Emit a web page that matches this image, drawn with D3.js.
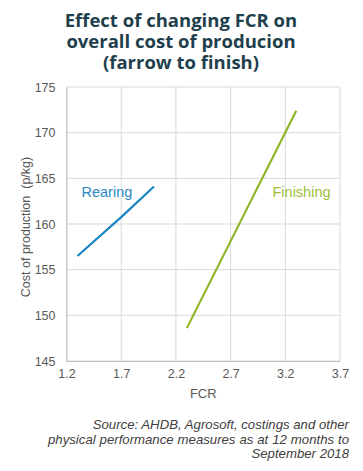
<!DOCTYPE html>
<html>
<head>
<meta charset="utf-8">
<script src="https://cdn.jsdelivr.net/npm/d3@7"></script>
<style>
  body { margin: 0; background: #fff; }
  text { font-family: "Liberation Sans", Arial, sans-serif; }
</style>
</head>
<body>
<div id="chart"></div>
<script>
// DATA
let titleLines = ['Effect of changing FCR on', 'overall cost of producion', '(farrow to finish)'];
let xTicks = [1.2, 1.7, 2.2, 2.7, 3.2, 3.7];
let yTicks = [145, 150, 155, 160, 165, 170, 175];
let rearingFcr = [1.3, 1.7, 2.0];
let rearingCost = [156.5, 160.75, 164.1];
let finishingFcr = [2.3, 3.3];
let finishingCost = [148.6, 172.4];
let sourceLines = ['Source: AHDB, Agrosoft, costings and other',
                   'physical performance measures as at 12 months to',
                   'September 2018'];

let width = 363, height = 471;
let margin = {top: 87, right: 23, bottom: 110, left: 66.5};

let svg = d3.select('#chart')
    .append('svg')
    .attr('width', width)
    .attr('height', height);

// title
svg.append('g')
    .selectAll('text')
    .data(titleLines)
    .enter()
    .append('text')
    .attr('x', 181)
    .attr('y', (d, i) => 27 + i * 21)
    .attr('text-anchor', 'middle')
    .style('font-family', '"Open Sans", sans-serif')
    .style('font-weight', 'bold')
    .style('font-size', '18.5px')
    .style('fill', '#1f3f4d')
    .text(d => d);

let x = d3.scaleLinear()
    .domain([1.2, 3.7])
    .range([margin.left, width - margin.right]);

let y = d3.scaleLinear()
    .domain([145, 175])
    .range([height - margin.bottom, margin.top]);

// grid
svg.append('g')
    .selectAll('line')
    .data(xTicks)
    .enter()
    .append('line')
    .attr('x1', d => x(d)).attr('x2', d => x(d))
    .attr('y1', y(145)).attr('y2', y(175))
    .attr('stroke', '#d9d9d9');

svg.append('g')
    .selectAll('line')
    .data(yTicks)
    .enter()
    .append('line')
    .attr('x1', x(1.2)).attr('x2', x(3.7))
    .attr('y1', d => y(d)).attr('y2', d => y(d))
    .attr('stroke', '#d9d9d9');

// axes
let xAxis = svg.append('g')
    .attr('transform', `translate(0,${y(145)})`)
    .call(d3.axisBottom(x).tickValues(xTicks).tickSize(0).tickPadding(8).tickFormat(d3.format('.1f')));

let yAxis = svg.append('g')
    .attr('transform', `translate(${x(1.2)},0)`)
    .call(d3.axisLeft(y).tickValues(yTicks).tickSize(0).tickPadding(11));

[xAxis, yAxis].forEach(a => {
    a.select('.domain').attr('stroke', '#bfbfbf');
    a.selectAll('text')
        .style('font-family', '"Liberation Sans", Arial, sans-serif')
        .style('font-size', '12.5px')
        .style('fill', '#595959');
});

// axis titles
svg.append('text')
    .attr('x', x(2.45))
    .attr('y', 398)
    .attr('text-anchor', 'middle')
    .style('font-size', '13px')
    .style('fill', '#595959')
    .text('FCR');

svg.append('text')
    .attr('transform', 'translate(30,227) rotate(-90)')
    .attr('text-anchor', 'middle')
    .style('font-size', '12.5px')
    .style('fill', '#595959')
    .style('white-space', 'pre')
    .text('Cost of production  (p/kg)');

// lines
let line = d3.line()
    .x(d => x(d[0]))
    .y(d => y(d[1]));

svg.append('path')
    .datum(d3.zip(rearingFcr, rearingCost))
    .attr('d', line)
    .attr('fill', 'none')
    .attr('stroke', '#1a84c2')
    .attr('stroke-width', 2.2);

svg.append('path')
    .datum(d3.zip(finishingFcr, finishingCost))
    .attr('d', line)
    .attr('fill', 'none')
    .attr('stroke', '#8fb62c')
    .attr('stroke-width', 2.2);

// series labels
svg.append('text')
    .attr('x', 81.5)
    .attr('y', 196.7)
    .style('font-size', '14.5px')
    .style('fill', '#2a8ac6')
    .text('Rearing');

svg.append('text')
    .attr('x', 272.5)
    .attr('y', 196.7)
    .style('font-size', '14.5px')
    .style('fill', '#9cbf3a')
    .text('Finishing');

// source note, middle line justified
let srcRight = 349, srcLeft = 48;
sourceLines.forEach((s, i) => {
    let yy = 429 + i * 14.7;
    if (i !== 1) {
        svg.append('text')
            .attr('x', srcRight)
            .attr('y', yy)
            .attr('text-anchor', 'end')
            .style('font-size', '13.2px')
            .style('font-style', 'italic')
            .style('fill', '#404040')
            .text(s);
    } else {
        let words = s.split(' ');
        let nodes = words.map(w => svg.append('text')
            .attr('y', yy)
            .style('font-size', '13.2px')
            .style('font-style', 'italic')
            .style('fill', '#404040')
            .text(w));
        let widths = nodes.map(n => n.node().getComputedTextLength());
        let gap = (srcRight - srcLeft - d3.sum(widths)) / (words.length - 1);
        let cx = srcLeft;
        nodes.forEach((n, j) => {
            n.attr('x', cx);
            cx += widths[j] + gap;
        });
    }
});
</script>
</body>
</html>
